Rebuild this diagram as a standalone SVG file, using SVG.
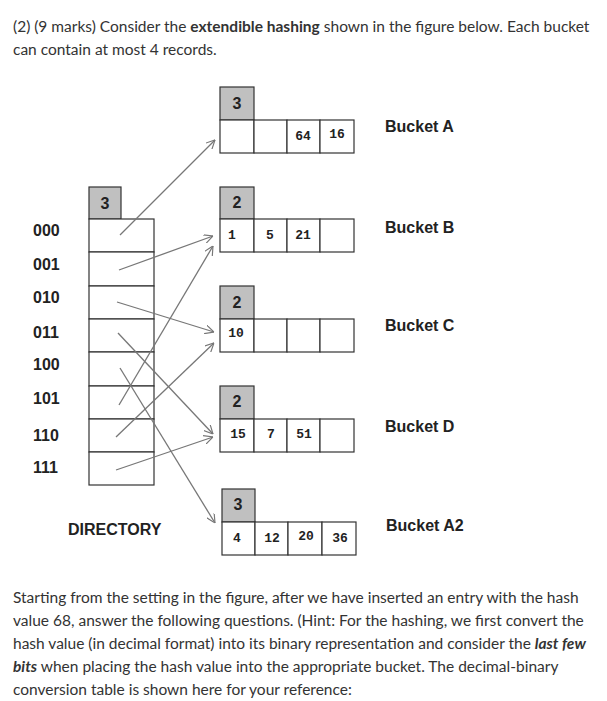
<svg xmlns="http://www.w3.org/2000/svg" width="607" height="701" viewBox="0 0 607 701">
<style>
.p{font-family:Lato,"Open Sans",sans-serif;font-size:15.5px;fill:#333}
.b{font-family:"Liberation Sans",Arial,sans-serif;font-weight:bold;font-size:16px;fill:#222}
.m{font-family:"Liberation Mono","Courier New",monospace;font-weight:bold;font-size:13px;fill:#222}
.c{fill:#fff;stroke:#333;stroke-width:1.2}
.h{fill:#c0c0c0;stroke:#333;stroke-width:1.2}
.a{stroke:#777;stroke-width:1.3;fill:none;marker-end:url(#ar)}
</style>
<defs><marker id="ar" viewBox="0 0 10 10" refX="10" refY="5" markerWidth="9" markerHeight="9" orient="auto" markerUnits="userSpaceOnUse"><path d="M0,0 L10,5 L0,10" fill="none" stroke="#777" stroke-width="1.3"/></marker></defs>
<rect width="607" height="701" fill="#fff"/>
<text class="p" x="13" y="32">(2) (9 marks) Consider the <tspan font-weight="bold">extendible hashing</tspan> shown in the figure below. Each bucket</text>
<text class="p" x="13" y="55">can contain at most 4 records.</text>
<g id="directory">
<rect class="h" x="89" y="187" width="32" height="32"/><text class="b" x="105" y="209" text-anchor="middle">3</text>
<rect class="c" x="89" y="219" width="65" height="33"/><rect class="c" x="89" y="252" width="65" height="34"/><rect class="c" x="89" y="286" width="65" height="33"/><rect class="c" x="89" y="319" width="65" height="33"/><rect class="c" x="89" y="352" width="65" height="34"/><rect class="c" x="89" y="386" width="65" height="33"/><rect class="c" x="89" y="419" width="65" height="33"/><rect class="c" x="89" y="452" width="65" height="33"/>
<text class="b" x="33" y="236">000</text><text class="b" x="33" y="270">001</text><text class="b" x="33" y="303">010</text><text class="b" x="33" y="338">011</text><text class="b" x="33" y="370">100</text><text class="b" x="33" y="404">101</text><text class="b" x="33" y="441">110</text><text class="b" x="33" y="473">111</text>
<text class="b" x="68" y="535">DIRECTORY</text>
</g>
<g id="bucketA">
<rect class="h" x="220" y="87" width="34" height="33"/><text class="b" x="237" y="109" text-anchor="middle">3</text>
<rect class="c" x="220" y="120" width="34" height="33"/><rect class="c" x="254" y="120" width="33" height="33"/><rect class="c" x="287" y="120" width="33" height="33"/><rect class="c" x="320" y="120" width="34" height="33"/>
<text class="m" x="303" y="140" text-anchor="middle">64</text><text class="m" x="337" y="138" text-anchor="middle">16</text>
<text class="b" x="385" y="132">Bucket A</text>
</g>
<g id="bucketB">
<rect class="h" x="220" y="187" width="34" height="32"/><text class="b" x="237" y="208" text-anchor="middle">2</text>
<rect class="c" x="220" y="219" width="34" height="33"/><rect class="c" x="254" y="219" width="33" height="33"/><rect class="c" x="287" y="219" width="33" height="33"/><rect class="c" x="320" y="219" width="34" height="33"/>
<text class="m" x="232" y="239" text-anchor="middle">1</text><text class="m" x="270" y="239" text-anchor="middle">5</text><text class="m" x="303" y="239" text-anchor="middle">21</text>
<text class="b" x="385" y="233">Bucket B</text>
</g>
<g id="bucketC">
<rect class="h" x="220" y="286" width="34" height="33"/><text class="b" x="237" y="308" text-anchor="middle">2</text>
<rect class="c" x="220" y="319" width="34" height="33"/><rect class="c" x="254" y="319" width="33" height="33"/><rect class="c" x="287" y="319" width="33" height="33"/><rect class="c" x="320" y="319" width="34" height="33"/>
<text class="m" x="236" y="337" text-anchor="middle">10</text>
<text class="b" x="385" y="331">Bucket C</text>
</g>
<g id="bucketD">
<rect class="h" x="220" y="386" width="34" height="33"/><text class="b" x="237" y="407" text-anchor="middle">2</text>
<rect class="c" x="220" y="419" width="34" height="33"/><rect class="c" x="254" y="419" width="33" height="33"/><rect class="c" x="287" y="419" width="33" height="33"/><rect class="c" x="320" y="419" width="34" height="33"/>
<text class="m" x="238" y="438" text-anchor="middle">15</text><text class="m" x="271" y="438" text-anchor="middle">7</text><text class="m" x="304" y="438" text-anchor="middle">51</text>
<text class="b" x="385" y="432">Bucket D</text>
</g>
<g id="bucketA2">
<rect class="h" x="222" y="489" width="33" height="33"/><text class="b" x="238" y="510" text-anchor="middle">3</text>
<rect class="c" x="222" y="522" width="33" height="33"/><rect class="c" x="255" y="522" width="33" height="33"/><rect class="c" x="288" y="522" width="34" height="33"/><rect class="c" x="322" y="522" width="34" height="33"/>
<text class="m" x="237" y="542" text-anchor="middle">4</text><text class="m" x="272" y="542" text-anchor="middle">12</text><text class="m" x="306" y="540" text-anchor="middle">20</text><text class="m" x="340" y="542" text-anchor="middle">36</text>
<text class="b" x="386" y="531">Bucket A2</text>
</g>
<g id="connectors">
<line class="a" x1="120" y1="235" x2="215" y2="140"/>
<line class="a" x1="119" y1="270" x2="213" y2="236"/>
<line class="a" x1="117" y1="302" x2="214" y2="332"/>
<line class="a" x1="118" y1="333" x2="213" y2="434"/>
<line class="a" x1="120" y1="368" x2="215" y2="523"/>
<line class="a" x1="119" y1="405" x2="213" y2="246"/>
<line class="a" x1="116" y1="437" x2="214" y2="343"/>
<line class="a" x1="116" y1="470" x2="213" y2="437"/>
</g>
<text class="p" x="13" y="603">Starting from the setting in the figure, after we have inserted an entry with the hash</text>
<text class="p" x="13" y="626">value 68, answer the following questions. (Hint: For the hashing, we first convert the</text>
<text class="p" x="13" y="649">hash value (in decimal format) into its binary representation and consider the <tspan font-weight="bold" font-style="italic">last few</tspan></text>
<text class="p" x="13" y="672"><tspan font-weight="bold" font-style="italic">bits</tspan> when placing the hash value into the appropriate bucket. The decimal-binary</text>
<text class="p" x="13" y="695">conversion table is shown here for your reference:</text>
</svg>
